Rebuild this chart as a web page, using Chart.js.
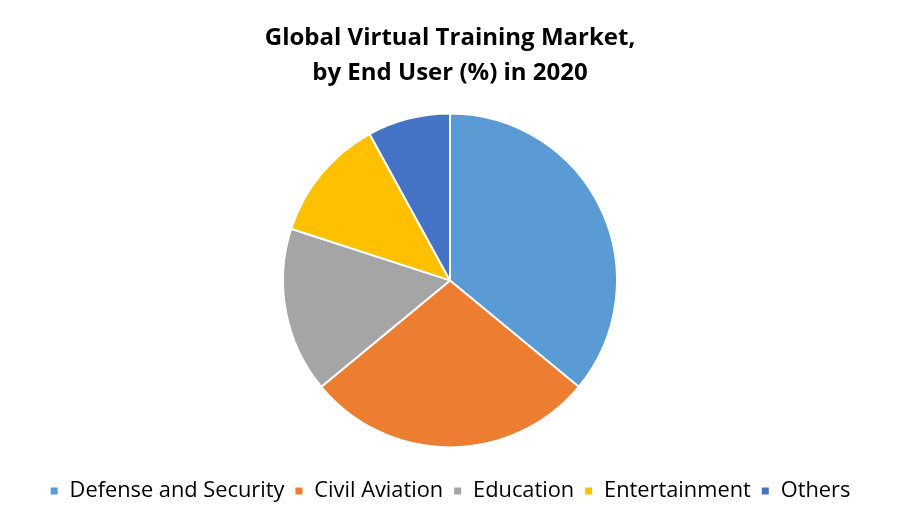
<!DOCTYPE html>
<html>
<head>
<meta charset="utf-8">
<script src="https://cdn.jsdelivr.net/npm/chart.js@4"></script>
<style>
  html, body { margin: 0; padding: 0; background: #fff; }
  #wrap { width: 900px; height: 525px; }
</style>
</head>
<body>
<div id="wrap"><canvas id="grafico"></canvas></div>
<script>
var categorias = ['Defense and Security', 'Civil Aviation', 'Education', 'Entertainment', 'Others'];
var valores = [36, 28, 16, 12, 8];
var cores = ['#5B9BD5', '#ED7D31', '#A5A5A5', '#FFC000', '#4472C4'];

var ctx = document.getElementById('grafico').getContext('2d');
var chart = new Chart(ctx, {
  type: 'pie',
  data: {
    labels: categorias,
    datasets: [{
      data: valores,
      backgroundColor: cores,
      borderColor: '#ffffff',
      borderWidth: 2,
      radius: 167
    }]
  },
  options: {
    responsive: true,
    maintainAspectRatio: false,
    animation: false,
    layout: { padding: { top: 21, bottom: 13 } },
    plugins: {
      title: {
        display: true,
        text: ['Global Virtual Training Market,', 'by End User (%) in 2020'],
        color: '#000',
        font: { family: 'Open Sans', size: 24, weight: 'bold', lineHeight: 1.45 },
        padding: { top: 0, bottom: 0 }
      },
      legend: {
        position: 'bottom',
        labels: {
          color: '#000',
          boxWidth: 9,
          boxHeight: 9,
          padding: 10,
          font: { family: 'Open Sans', size: 21.8 }
        }
      },
      tooltip: { enabled: false }
    }
  }
});
</script>
</body>
</html>
